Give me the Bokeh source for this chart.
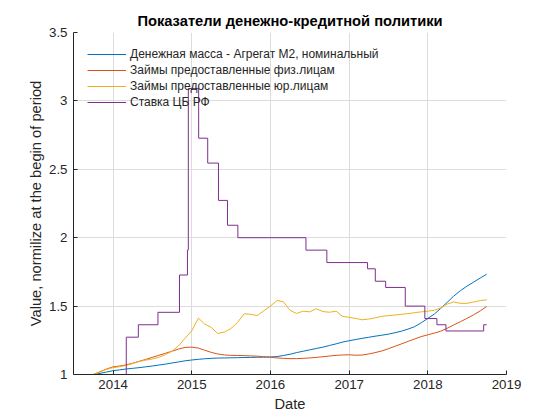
from datetime import datetime
import pandas as pd
from bokeh.plotting import figure
from bokeh.models import Range1d, FixedTicker, DatetimeTickFormatter, Legend, LegendItem
from bokeh.embed import file_html
from bokeh.resources import INLINE

# ---- data (monthly, normalized to the first value) ----
months = pd.date_range("2013-10-01", "2018-10-01", freq="MS")

m2 = [1.000, 1.008, 1.018,
      1.028, 1.034, 1.040, 1.045, 1.050, 1.056, 1.062, 1.069, 1.076, 1.084, 1.092, 1.100,
      1.106, 1.111, 1.115, 1.118, 1.120, 1.121, 1.122, 1.123, 1.124, 1.125, 1.126, 1.127,
      1.128, 1.131, 1.139, 1.148, 1.160, 1.170, 1.180, 1.190, 1.200, 1.212, 1.224, 1.237,
      1.247, 1.256, 1.264, 1.272, 1.280, 1.287, 1.295, 1.305, 1.317, 1.332, 1.350, 1.378,
      1.410, 1.443, 1.482, 1.528, 1.573, 1.613, 1.645, 1.675, 1.705, 1.733]

loans_ind = [1.000, 1.020, 1.040,
             1.056, 1.062, 1.070, 1.082, 1.096, 1.110, 1.125, 1.140, 1.155, 1.170, 1.186, 1.198,
             1.200, 1.193, 1.178, 1.162, 1.150, 1.143, 1.140, 1.139, 1.138, 1.136, 1.134, 1.130,
             1.126, 1.121, 1.118, 1.116, 1.116, 1.118, 1.121, 1.125, 1.130, 1.135, 1.140, 1.143,
             1.144, 1.141, 1.142, 1.150, 1.160, 1.172, 1.188, 1.206, 1.224, 1.242, 1.260, 1.277,
             1.290, 1.303, 1.316, 1.338, 1.362, 1.386, 1.410, 1.436, 1.465, 1.497]

loans_corp = [1.000, 1.018, 1.038,
              1.050, 1.057, 1.066, 1.080, 1.095, 1.105, 1.113, 1.125, 1.145, 1.170, 1.210, 1.265,
              1.320, 1.412, 1.370, 1.345, 1.300, 1.310, 1.335, 1.380, 1.444, 1.440, 1.431, 1.465,
              1.500, 1.541, 1.532, 1.470, 1.446, 1.463, 1.458, 1.480, 1.460, 1.455, 1.463, 1.425,
              1.418, 1.410, 1.400, 1.405, 1.414, 1.425, 1.430, 1.435, 1.440, 1.445, 1.452, 1.458,
              1.463, 1.470, 1.487, 1.515, 1.530, 1.520, 1.520, 1.530, 1.540, 1.546]

rate_dates = ["2013-10-01", "2014-03-03", "2014-04-28", "2014-07-28", "2014-11-05",
              "2014-12-12", "2014-12-16", "2015-02-02", "2015-03-16", "2015-05-05",
              "2015-06-16", "2015-08-03", "2016-06-14", "2016-09-19", "2017-03-27",
              "2017-05-02", "2017-06-19", "2017-09-18", "2017-12-18", "2018-02-12",
              "2018-03-26", "2018-09-17", "2018-10-01"]
rate_pct = [5.5, 7.0, 7.5, 8.0, 9.5,
            10.5, 17.0, 15.0, 14.0, 12.5,
            11.5, 11.0, 10.5, 10.0, 9.75,
            9.25, 9.0, 8.25, 7.75, 7.5,
            7.25, 7.5, 7.5]

labels = ["Денежная масса - Агрегат М2, номинальный",
          "Займы предоставленные физ.лицам",
          "Займы предоставленные юр.лицам",
          "Ставка ЦБ РФ"]
colors = ["#0072BD", "#D95319", "#EDB120", "#7E2F8E"]

year_ticks = [2014, 2015, 2016, 2017, 2018, 2019]
y_ticks = [1, 1.5, 2, 2.5, 3, 3.5]
y_tick_labels = ["1", "1.5", "2", "2.5", "3", "3.5"]

rate_x = pd.to_datetime(rate_dates)
rate_norm = [r / rate_pct[0] for r in rate_pct]

FONT = "Liberation Sans"
TXT = "#262626"

p = figure(width=560, height=420, output_backend="svg", toolbar_location=None,
           x_axis_type="datetime",
           x_range=Range1d(datetime(2013, 7, 1), datetime(2019, 1, 1)),
           y_range=Range1d(1, 3.5),
           min_border_left=73, min_border_right=54, min_border_top=32, min_border_bottom=46)

p.title.text = "Показатели денежно-кредитной политики"
p.title.align = "center"
p.title.text_font = FONT
p.title.text_font_size = "14.7px"
p.title.text_font_style = "bold"
p.title.text_color = "#000000"
p.title.standoff = 8

r1 = p.line(months, m2, line_color=colors[0], line_width=1)
r2 = p.line(months, loans_ind, line_color=colors[1], line_width=1)
r3 = p.line(months, loans_corp, line_color=colors[2], line_width=1)
r4 = p.step(rate_x, rate_norm, mode="after", line_color=colors[3], line_width=1)

x_ticker = FixedTicker(ticks=[pd.Timestamp(f"{y}-01-01").value // 10**6 for y in year_ticks])
y_ticker = FixedTicker(ticks=y_ticks)
fmt = "%Y"
p.xaxis[0].ticker = x_ticker
p.xaxis[0].formatter = DatetimeTickFormatter(microseconds=fmt, milliseconds=fmt, seconds=fmt,
                                             minsec=fmt, minutes=fmt, hourmin=fmt, hours=fmt,
                                             days=fmt, months=fmt, years=fmt)
p.yaxis[0].ticker = y_ticker
p.yaxis[0].major_label_overrides = {t: s for t, s in zip(y_ticks, y_tick_labels)}

p.xaxis.axis_label = "Date"
p.yaxis.axis_label = "Value, normilize at the begin of period"

for ax in (p.xaxis[0], p.yaxis[0]):
    ax.axis_line_color = TXT
    ax.major_tick_line_color = TXT
    ax.major_tick_in = 4
    ax.major_tick_out = 0
    ax.minor_tick_line_color = None
    ax.major_label_text_font = FONT
    ax.major_label_text_font_size = "13.3px"
    ax.major_label_text_color = TXT
    ax.axis_label_text_font = FONT
    ax.axis_label_text_font_size = "14.7px"
    ax.axis_label_text_font_style = "normal"
    ax.axis_label_text_color = TXT
p.xaxis[0].major_label_standoff = 5
p.xaxis[0].axis_label_standoff = 4
p.yaxis[0].major_label_standoff = 6
p.yaxis[0].axis_label_standoff = 2

p.xgrid[0].ticker = x_ticker
p.ygrid[0].ticker = y_ticker
for g in (p.xgrid[0], p.ygrid[0]):
    g.grid_line_color = "#dcdcdc"
    g.grid_line_width = 1
p.outline_line_color = None

legend = Legend(items=[LegendItem(label=labels[0], renderers=[r1]),
                       LegendItem(label=labels[1], renderers=[r2]),
                       LegendItem(label=labels[2], renderers=[r3]),
                       LegendItem(label=labels[3], renderers=[r4])],
                location="top_left", margin=14, padding=0, spacing=0,
                label_height=16, glyph_height=16, glyph_width=39, label_standoff=4,
                label_text_font=FONT, label_text_font_size="12px", label_text_color=TXT,
                background_fill_alpha=0, border_line_alpha=0)
p.add_layout(legend)

open("out.html", "w").write(file_html(p, INLINE))
